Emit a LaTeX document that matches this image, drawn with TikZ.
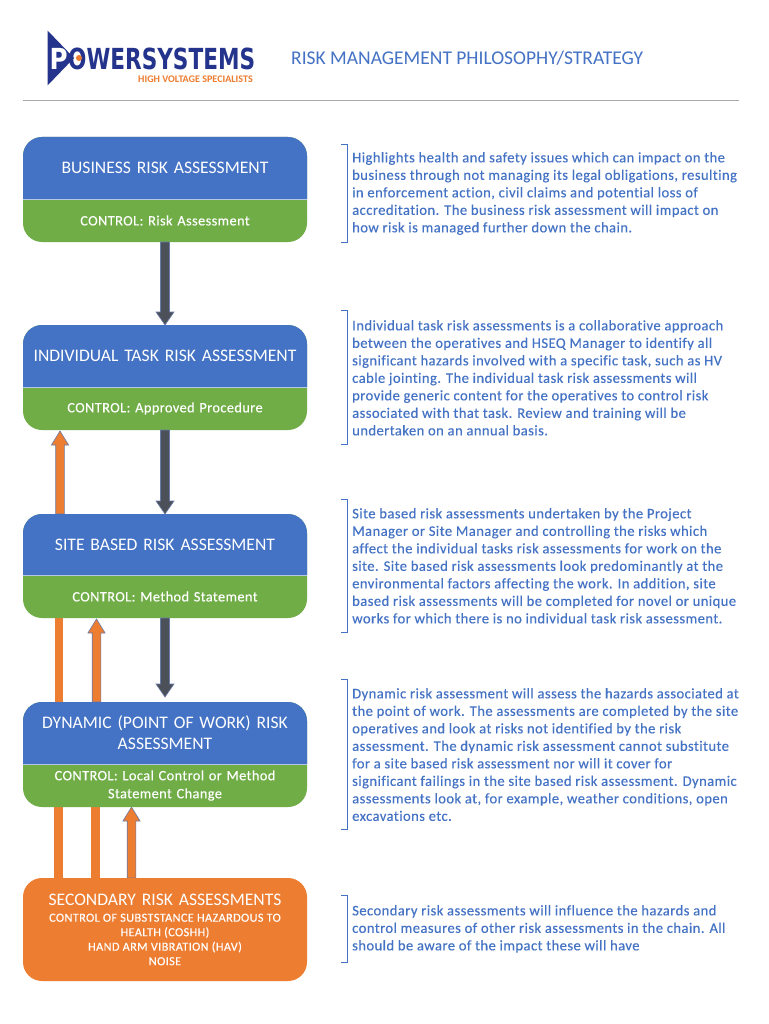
\documentclass[tikz,border=0pt]{standalone}
\usepackage{fontspec}
\setmainfont[Ligatures=NoCommon]{Carlito}
\newfontfamily\logofont{DejaVu Sans}
\newfontfamily\spaced[LetterSpace=3,Ligatures=NoCommon,FakeBold=0.25]{Carlito}
\usetikzlibrary{calc}
\definecolor{rblue}{HTML}{4472C4}
\definecolor{rgreen}{HTML}{70AD47}
\definecolor{rorange}{HTML}{ED7D31}
\definecolor{rdark}{HTML}{4C5058}
\definecolor{redge}{HTML}{6A7CA8}
\definecolor{rline}{HTML}{A9A9A9}
\definecolor{rlogo}{HTML}{24348C}
\tikzset{
  x=1pt,y=-1pt,
  frame/.style={rectangle,minimum width=284pt,inner sep=0pt,rounded corners=19pt,outer sep=0pt},
  boxtitle/.style={text=white,align=center,text width=276pt,font=\fontsize{17.6}{21}\selectfont},
  boxctrl/.style={text=white,align=center,text width=276pt,font=\spaced\fontsize{14.3}{18}\selectfont},
  subtext/.style={text=white,align=center,inner sep=0pt,anchor=north,font=\spaced\fontsize{12.3}{14.5}\selectfont},
  note/.style={text=rblue,align=left,anchor=north west,inner sep=0pt,font=\spaced\fontsize{14.6}{17.5}\selectfont},
  bracket/.style={draw=rblue,line width=0.9pt},
  darkarrow/.style={fill=rdark,draw=redge,line width=0.6pt},
  orangearrow/.style={fill=rorange,draw=redge,line width=0.6pt},
  orangeshaft/.style={fill=rorange,draw=none},
}
% vertical block arrow between two named points
\newcommand{\blockarrow}[5][]{% style, from, to, half shaft, head length
  \draw[#1] let \p1=(#2),\p2=(#3) in
    (\x1-#4,\y1) -- (\x1-#4,\y2+#5*1pt*\ifdim\y2<\y1 1\else -1\fi) -- (\x1-#4*2,\y2+#5*1pt*\ifdim\y2<\y1 1\else -1\fi)
    -- (\x1,\y2) -- (\x1+#4*2,\y2+#5*1pt*\ifdim\y2<\y1 1\else -1\fi) -- (\x1+#4,\y2+#5*1pt*\ifdim\y2<\y1 1\else -1\fi) -- (\x1+#4,\y1) -- cycle;
}
\newcommand{\riskbox}[6]{% name, top, split, bottom, title, control
  \node[frame,fill=rgreen,minimum height={(#4-#2)*1pt}] (#1) at (165,{(#2+#4)/2}) {};
  \coordinate (#1s) at (165,#3);
  \fill[rblue] (#1.west|-#1s) [rounded corners=19pt] -- (#1.north west) -- (#1.north east) [sharp corners] -- (#1.east|-#1s) -- cycle;
  \draw[white!60!rblue,line width=0.6pt] (#1.west|-#1s) -- (#1.east|-#1s);
  \node[boxtitle] (#1t) at (165,{(#2+#3)/2}) {#5};
  \node[boxctrl] (#1c) at (165,{(#3+#4)/2}) {#6};
}
\begin{document}
\begin{tikzpicture}
\useasboundingbox (0,0) rectangle (768,1024);
\fill[white] (0,0) rectangle (768,1024);

% logo
\fill[rlogo] (47.5,30.5) -- (47.5,85.5) -- (74,58) -- cycle;
\node[inner sep=0pt,anchor=west,text=white] (logoP) at (49.5,58.5) {\logofont\bfseries\fontsize{29}{29}\selectfont\scalebox{0.85}[1.0]{P}};
\node[inner sep=0pt,anchor=west,text=rlogo] (logoT) at (68,58.5) {\logofont\bfseries\fontsize{29}{29}\selectfont\scalebox{0.745}[1.0]{OWERSYSTEMS}};
\fill[rorange] (79,58) circle (3pt);
\node[inner sep=0pt,anchor=east,text=rorange] (logoS) at (253,79) {\bfseries\fontsize{10.1}{10}\selectfont HIGH VOLTAGE SPECIALISTS};

\node[inner sep=0pt,anchor=west,text=rblue] (title) at (291,58) {\fontsize{19.5}{20}\selectfont RISK MANAGEMENT PHILOSOPHY/STRATEGY};
\coordinate (ruleL) at (23,100); \coordinate (ruleR) at (739,100);
\draw[rline,line width=0.8pt] (ruleL) -- (ruleR);

% free ends of the shafts that run behind the boxes
\coordinate (oA1) at (60,514); \coordinate (oA1e) at (60,431);
\coordinate (oA2) at (59,702); \coordinate (oA2e) at (59,618);
\coordinate (oB2) at (96.5,702); \coordinate (oB2e) at (96.5,619);
\coordinate (oA3) at (58.5,878); \coordinate (oA3e) at (58.5,807);
\coordinate (oB3) at (95.5,878); \coordinate (oB3e) at (95.5,807);
\coordinate (oC3) at (131.5,878); \coordinate (oC3e) at (131.5,807);

\blockarrow[orangearrow]{oA1}{oA1e}{4.3}{14}
\blockarrow[orangearrow]{oB2}{oB2e}{4.3}{14}
\blockarrow[orangearrow]{oC3}{oC3e}{4.3}{14}
\draw[orangeshaft] ($(oA2)+(-4.3,0)$) rectangle ($(oA2e)+(4.3,0)$);
\draw[orangeshaft] ($(oA3)+(-4.3,0)$) rectangle ($(oA3e)+(4.3,0)$);
\draw[orangeshaft] ($(oB3)+(-4.3,0)$) rectangle ($(oB3e)+(4.3,0)$);

% boxes
\riskbox{b1}{137}{199}{242}{BUSINESS RISK ASSESSMENT}{CONTROL: Risk Assessment}
\riskbox{b2}{325}{387}{430}{INDIVIDUAL TASK RISK ASSESSMENT}{CONTROL: Approved Procedure}
\riskbox{b3}{514}{575}{618}{SITE BASED RISK ASSESSMENT}{CONTROL: Method Statement}
\riskbox{b4}{702}{764}{807}{DYNAMIC (POINT OF WORK) RISK\\ASSESSMENT}{CONTROL: Local Control or Method\\Statement Change}
\node[frame,fill=rorange,minimum height=103pt] (b5) at (165,929.5) {};
\node[boxtitle] (b5t) at (165,899.5) {SECONDARY RISK ASSESSMENTS};
\node[subtext] (b5c) at (165,913.5) {CONTROL OF SUBSTSTANCE HAZARDOUS TO\\HEALTH (COSHH)\\HAND ARM VIBRATION (HAV)\\NOISE};

% dark arrows
\coordinate (b4tip) at ($(b4.north)+(0,-5)$);
\blockarrow[darkarrow]{b1.south}{b2.north}{4.5}{13}
\blockarrow[darkarrow]{b2.south}{b3.north}{4.5}{13}
\blockarrow[darkarrow]{b3.south}{b4tip}{4.5}{13}

% notes
\draw[bracket] (341,144) -- (347,144) -- (347,242) -- (341,242);
\node[note] (n1) at (352,152) {Highlights health and safety issues which can impact on the\\business through not managing its legal obligations, resulting\\in enforcement action, civil claims and potential loss of\\accreditation. The business risk assessment will impact on\\how risk is managed further down the chain.};
\draw[bracket] (341,310) -- (347,310) -- (347,444) -- (341,444);
\node[note] (n2) at (352,320) {Individual task risk assessments is a collaborative approach\\between the operatives and HSEQ Manager to identify all\\significant hazards involved with a specific task, such as HV\\cable jointing. The individual task risk assessments will\\provide generic content for the operatives to control risk\\associated with that task. Review and training will be\\undertaken on an annual basis.};
\draw[bracket] (341,499) -- (347,499) -- (347,632) -- (341,632);
\node[note] (n3) at (352,508) {Site based risk assessments undertaken by the Project\\Manager or Site Manager and controlling the risks which\\affect the individual tasks risk assessments for work on the\\site. Site based risk assessments look predominantly at the\\environmental factors affecting the work. In addition, site\\based risk assessments will be completed for novel or unique\\works for which there is no individual task risk assessment.};
\draw[bracket] (341,679) -- (347,679) -- (347,829) -- (341,829);
\node[note] (n4) at (352,688) {Dynamic risk assessment will assess the hazards associated at\\the point of work. The assessments are completed by the site\\operatives and look at risks not identified by the risk\\assessment. The dynamic risk assessment cannot substitute\\for a site based risk assessment nor will it cover for\\significant failings in the site based risk assessment. Dynamic\\assessments look at, for example, weather conditions, open\\excavations etc.};
\draw[bracket] (341,895) -- (347,895) -- (347,962) -- (341,962);
\node[note] (n5) at (352,905) {Secondary risk assessments will influence the hazards and\\control measures of other risk assessments in the chain. All\\should be aware of the impact these will have};
\end{tikzpicture}
\end{document}
